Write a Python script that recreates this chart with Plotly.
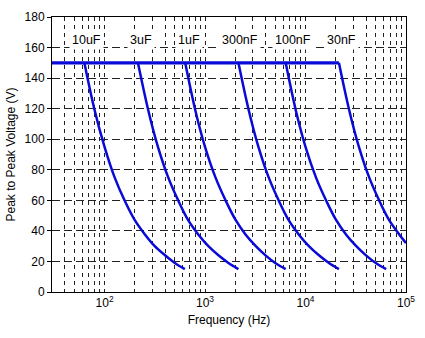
import math
import plotly.graph_objects as go

# ---- data ----
flat_f = [30, 21500]
flat_v = [150, 150]

f_10uF = [63, 79, 100, 126, 158, 200, 250, 316, 400, 500, 630]
v_10uF = [150, 120, 95, 75, 60, 47, 38, 30, 24, 19, 15]

f_3uF = [215, 270, 340, 430, 540, 680, 860, 1080, 1360, 1710, 2150]
v_3uF = [150, 120, 95, 75, 60, 47, 37.5, 30, 24, 19, 15]

f_1uF = [635, 800, 1000, 1270, 1600, 2000, 2540, 3200, 4000, 5000, 6350]
v_1uF = [150, 119, 95, 75, 60, 47.5, 37.5, 30, 24, 19, 15]

f_300nF = [2150, 2700, 3400, 4300, 5400, 6800, 8600, 10800, 13600, 17100, 21500]
v_300nF = [150, 120, 95, 75, 60, 47, 37.5, 30, 24, 19, 15]

f_100nF = [6350, 8000, 10000, 12700, 16000, 20000, 25400, 32000, 40000, 50000, 63500]
v_100nF = [150, 119, 95, 75, 60, 47.5, 37.5, 30, 24, 19, 15]

f_30nF = [21500, 27000, 34000, 43000, 54000, 68000, 86000, 100000]
v_30nF = [150, 120, 95, 75, 60, 47, 37.5, 32]

labels = ["10uF", "3uF", "1uF", "300nF", "100nF", "30nF"]
label_f = [66, 228, 700, 2230, 7430, 22800]
label_v = [165, 165, 165, 165, 165, 165]

y_ticks = [0, 20, 40, 60, 80, 100, 120, 140, 160, 180]
x_major = [100, 1000, 10000, 100000]
x_major_text = ["10<sup>2</sup>", "10<sup>3</sup>", "10<sup>4</sup>", "10<sup>5</sup>"]
x_minor = [m * 10 ** e for e in range(1, 5) for m in range(2, 10)]
x_minor = [v for v in x_minor if v >= 40]

BLUE = "#0a0ad8"
FONT = "Arial, Liberation Sans"

fig = go.Figure()
fig.add_trace(go.Scatter(x=flat_f, y=flat_v, mode="lines",
                         line=dict(color=BLUE, width=3.2), showlegend=False))
for fx, vy in [(f_10uF, v_10uF), (f_3uF, v_3uF), (f_1uF, v_1uF),
               (f_300nF, v_300nF), (f_100nF, v_100nF), (f_30nF, v_30nF)]:
    fig.add_trace(go.Scatter(x=fx, y=vy, mode="lines", line_shape="spline",
                             line=dict(color=BLUE, width=2.5), showlegend=False))

for t, fx, vy in zip(labels, label_f, label_v):
    fig.add_annotation(x=math.log10(fx), y=vy, text=t, showarrow=False,
                       bgcolor="white", font=dict(family=FONT, size=12.5, color="black"),
                       borderpad=2)

fig.update_xaxes(type="log", range=[math.log10(30), 5],
                 tickmode="array", tickvals=x_major, ticktext=x_major_text, ticks="",
                 showgrid=True, gridcolor="#222", gridwidth=1, griddash="4px,4px",
                 minor=dict(tickmode="array", tickvals=x_minor, showgrid=True,
                            gridcolor="#222", gridwidth=1, griddash="4px,4px", ticks=""),
                 showline=True, linecolor="black", linewidth=1, mirror=True,
                 tickfont=dict(family=FONT, size=12, color="black"),
                 title=dict(text="Frequency (Hz)", font=dict(family=FONT, size=12, color="black"),
                            standoff=6),
                 zeroline=False)
fig.update_yaxes(range=[0, 180], tickvals=y_ticks, ticks="outside", ticklen=4, tickcolor="black",
                 showgrid=True, gridcolor="#222", gridwidth=1, griddash="8px,4px",
                 showline=True, linecolor="black", linewidth=1, mirror=True,
                 tickfont=dict(family=FONT, size=12, color="black"),
                 title=dict(text="Peak to Peak Voltage (V)", font=dict(family=FONT, size=12, color="black"),
                            standoff=6),
                 zeroline=False)

fig.update_layout(width=425, height=338, margin=dict(l=52, r=19, t=10, b=46),
                  plot_bgcolor="white", paper_bgcolor="white")

fig.write_html("out.html")
